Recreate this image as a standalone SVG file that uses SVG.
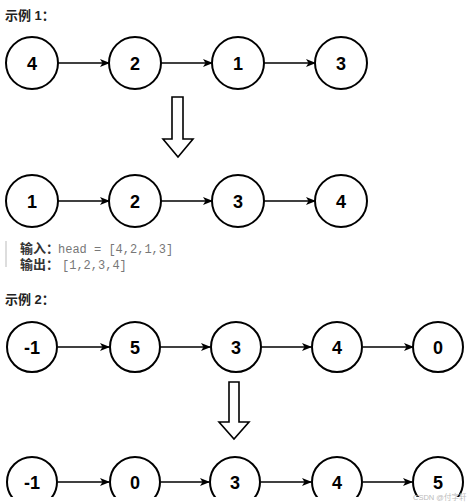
<svg xmlns="http://www.w3.org/2000/svg" width="474" height="504" viewBox="0 0 474 504">
<style>
.n{fill:#fff;stroke:#000;stroke-width:2}
.t{font-family:"Liberation Sans",Arial,sans-serif;font-weight:bold;font-size:18px;text-anchor:middle;fill:#000}
.e{stroke:#000;stroke-width:1.6;fill:none;marker-end:url(#ah)}
.h{font-family:"Liberation Sans","Noto Sans CJK SC",sans-serif;font-weight:bold;font-size:13px;fill:#222}
.lab{font-family:"Liberation Sans","Noto Sans CJK SC",sans-serif;font-weight:bold;font-size:13px;fill:#333}
.code{font-family:"Liberation Mono","DejaVu Sans Mono",monospace;font-size:12px;fill:#777}
.big{fill:#fff;stroke:#000;stroke-width:1.6;stroke-linejoin:miter}
</style>
<defs>
<marker id="ah" markerWidth="10" markerHeight="8" refX="9" refY="4" orient="auto" markerUnits="userSpaceOnUse">
<path d="M0,0 L10,4 L0,8 L2.5,4 Z" fill="#000"/>
</marker>
<clipPath id="cb"><rect x="0" y="0" width="474" height="497"/></clipPath>
</defs>
<rect width="474" height="504" fill="#fff"/>

<text class="h" x="5" y="20">示例 1：</text>

<g id="connectors">
<line class="e" x1="58" y1="63" x2="109" y2="63"/>
<line class="e" x1="161" y1="63" x2="212" y2="63"/>
<line class="e" x1="264" y1="63" x2="315" y2="63"/>
<line class="e" x1="58" y1="201" x2="109" y2="201"/>
<line class="e" x1="161" y1="201" x2="212" y2="201"/>
<line class="e" x1="264" y1="201" x2="315" y2="201"/>
<line class="e" x1="58" y1="347" x2="109" y2="347"/>
<line class="e" x1="160" y1="347" x2="210" y2="347"/>
<line class="e" x1="261" y1="347" x2="311" y2="347"/>
<line class="e" x1="363" y1="347" x2="413" y2="347"/>
<g clip-path="url(#cb)">
<line class="e" x1="58" y1="482" x2="109" y2="482"/>
<line class="e" x1="161" y1="482" x2="209" y2="482"/>
<line class="e" x1="261" y1="482" x2="311" y2="482"/>
<line class="e" x1="363" y1="482" x2="412" y2="482"/>
</g>
</g>

<g id="a1n1"><circle class="n" cx="32" cy="63" r="26"/><text class="t" x="32" y="70">4</text></g>
<g id="a1n2"><circle class="n" cx="135" cy="63" r="26"/><text class="t" x="135" y="70">2</text></g>
<g id="a1n3"><circle class="n" cx="238" cy="63" r="26"/><text class="t" x="238" y="70">1</text></g>
<g id="a1n4"><circle class="n" cx="341" cy="63" r="26"/><text class="t" x="341" y="70">3</text></g>

<g id="down1"><path class="big" d="M172,97 H183 V139 H193 L178,157 L163,139 H172 Z"/></g>

<g id="b1n1"><circle class="n" cx="32" cy="201" r="26"/><text class="t" x="32" y="208">1</text></g>
<g id="b1n2"><circle class="n" cx="135" cy="201" r="26"/><text class="t" x="135" y="208">2</text></g>
<g id="b1n3"><circle class="n" cx="238" cy="201" r="26"/><text class="t" x="238" y="208">3</text></g>
<g id="b1n4"><circle class="n" cx="341" cy="201" r="26"/><text class="t" x="341" y="208">4</text></g>

<rect x="5" y="241" width="2" height="26" fill="#ddd"/>
<text class="lab" x="20" y="253">输入：</text>
<text class="code" x="58" y="253">head = [4,2,1,3]</text>
<text class="lab" x="20" y="269">输出：</text>
<text class="code" x="62" y="269">[1,2,3,4]</text>

<text class="h" x="5" y="304">示例 2：</text>

<g id="a2n1"><circle class="n" cx="32" cy="347" r="25"/><text class="t" x="32" y="354">-1</text></g>
<g id="a2n2"><circle class="n" cx="135" cy="347" r="25"/><text class="t" x="135" y="354">5</text></g>
<g id="a2n3"><circle class="n" cx="236" cy="347" r="25"/><text class="t" x="236" y="354">3</text></g>
<g id="a2n4"><circle class="n" cx="337" cy="347" r="25"/><text class="t" x="337" y="354">4</text></g>
<g id="a2n5"><circle class="n" cx="438" cy="347" r="25"/><text class="t" x="438" y="354">0</text></g>

<g id="down2"><path class="big" d="M229,382 H239 V422 H249 L234,439 L219,422 H229 Z"/></g>

<g clip-path="url(#cb)">
<g id="b2n1"><circle class="n" cx="32" cy="482" r="25"/><text class="t" x="32" y="489">-1</text></g>
<g id="b2n2"><circle class="n" cx="135" cy="482" r="25"/><text class="t" x="135" y="489">0</text></g>
<g id="b2n3"><circle class="n" cx="235" cy="482" r="25"/><text class="t" x="235" y="489">3</text></g>
<g id="b2n4"><circle class="n" cx="337" cy="482" r="25"/><text class="t" x="337" y="489">4</text></g>
<g id="b2n5"><circle class="n" cx="438" cy="482" r="25"/><text class="t" x="438" y="489">5</text></g>
</g>

<text x="413" y="500" font-family="'Liberation Sans','Noto Sans CJK SC',sans-serif" font-size="7.5" fill="#bbb">CSDN @付字轩</text>
</svg>
